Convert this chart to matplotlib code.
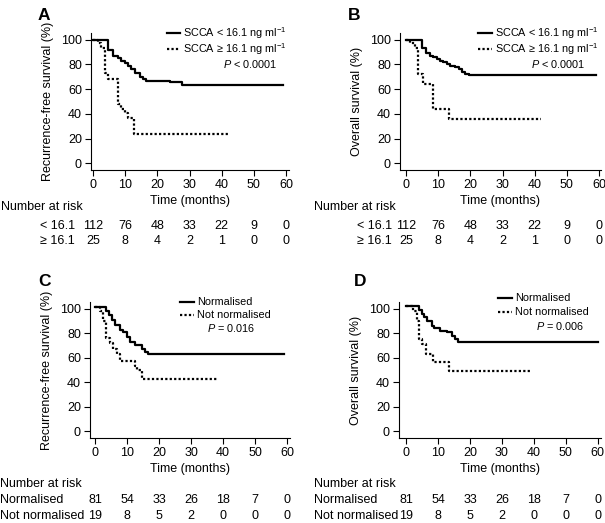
import matplotlib
matplotlib.use("Agg")
import matplotlib.pyplot as plt
import matplotlib.transforms as mtransforms
import numpy as np

plt.rcParams['font.family'] = ['Liberation Sans', 'DejaVu Sans']
plt.rcParams['mathtext.fontset'] = 'custom'
plt.rcParams['mathtext.rm'] = 'Liberation Sans'
plt.rcParams['mathtext.it'] = 'Liberation Sans:italic'
plt.rcParams['font.size'] = 8.5

# ---- data ----
# panel A: recurrence-free survival by SCCA level
a_low_t = [0, 4.7, 6.2, 7.8, 8.8, 9.9, 10.9, 11.9, 13.0, 14.5, 15.6, 16.6, 23.9, 27.8, 59]
a_low_s = [100, 92, 87, 85, 83, 81, 79, 76, 73, 70, 68, 67, 65.5, 63.5, 63.5]
a_high_t = [0, 1.6, 2.6, 3.6, 4.7, 7.8, 8.8, 9.9, 10.9, 12.7, 42]
a_high_s = [100, 97, 93, 73, 68, 48, 44, 41, 37, 24, 24]

# panel B: overall survival by SCCA level
b_low_t = [0, 5.0, 6.2, 7.5, 8.5, 9.6, 10.6, 11.6, 12.7, 13.7, 15.3, 16.3, 17.3, 18.4, 19.4, 59]
b_low_s = [100, 93, 89, 87, 86, 84.5, 83, 82, 80.5, 79, 78, 76, 73.5, 72, 71.6, 71.6]
b_high_t = [0, 1.2, 2.8, 3.8, 5.1, 8.3, 13.2, 42]
b_high_s = [100, 97, 93, 72, 64, 44, 36, 36]

# panel C: recurrence-free survival by normalisation
c_norm_t = [0, 3.4, 4.2, 5.2, 6.2, 7.8, 8.8, 9.9, 10.9, 12.5, 14.6, 15.6, 16.6, 27.5, 59]
c_norm_s = [101.6, 98, 95, 91, 87, 83, 81, 77, 73, 70, 67, 65, 63, 63, 63]
c_not_t = [0, 1.6, 2.6, 3.4, 4.5, 5.7, 6.8, 7.8, 12.5, 13.2, 14.6, 38]
c_not_s = [101.6, 98, 90, 76, 72, 67, 63, 57, 53, 50, 42.5, 42.5]

# panel D: overall survival by normalisation
d_norm_t = [0, 4.2, 4.9, 5.6, 6.5, 8.0, 8.6, 10.6, 12.7, 14.3, 15.3, 16.4, 17.4, 60]
d_norm_s = [102, 99, 96, 93, 90, 86, 84, 82, 81, 78, 75, 73, 73, 73]
d_not_t = [0, 2.3, 3.3, 4.1, 5.0, 6.3, 8.4, 13.3, 39]
d_not_s = [102, 98, 90, 75, 71, 63, 56.5, 49, 49]

risk_times = [0, 10, 20, 30, 40, 50, 60]
scca_low_risk = [112, 76, 48, 33, 22, 9, 0]
scca_high_risk = [25, 8, 4, 2, 1, 0, 0]
norm_risk = [81, 54, 33, 26, 18, 7, 0]
not_norm_risk = [19, 8, 5, 2, 0, 0, 0]

scca_labels = ['SCCA < 16.1 ng ml$^{-1}$', 'SCCA \u2265 16.1 ng ml$^{-1}$']
norm_labels = ['Normalised', 'Not normalised']

W, H = 605, 523
fig = plt.figure(figsize=(W / 100, H / 100), dpi=100)


def rect(l, t, r, b):
    return [l / W, 1 - b / H, (r - l) / W, (b - t) / H]


def panel(box, xlim, letter, letter_xy, ylabel, t1, s1, t2, s2, labels,
          leg_xy, leg_ys, ptext, p_xy, p_ha, risk_xy, rows, row_x, row_ys):
    ax = fig.add_axes(rect(*box))
    ax.step(t1, s1, where='post', color='black', lw=1.6)
    ax.step(t2, s2, where='post', color='black', lw=1.6, ls=(0, (1, 1)))
    ax.set_xlim(*xlim)
    ax.set_ylim(-5.5, 105.5)
    ax.set_xticks(risk_times)
    ax.set_yticks([0, 20, 40, 60, 80, 100])
    for s in ['top', 'right']:
        ax.spines[s].set_visible(False)
    ax.tick_params(direction='out', length=4, width=0.8, pad=2.5, labelsize=9)
    ax.set_ylabel(ylabel, fontsize=9, labelpad=5)
    ax.set_xlabel('Time (months)', fontsize=9, labelpad=3)

    # legend drawn by hand so the row spacing matches
    x0, x1 = leg_xy
    for (ls, lab), ly in zip([('-', labels[0]), ((0, (1, 1)), labels[1])], leg_ys):
        yf = 1 - ly / H
        fig.add_artist(plt.Line2D([x0 / W, x1 / W], [yf, yf], color='black',
                                  lw=1.6, ls=ls, transform=fig.transFigure))
        fig.text((x1 + 3) / W, yf, lab, va='center', ha='left', fontsize=7.8)
    fig.text(p_xy[0] / W, 1 - p_xy[1] / H, ptext, ha=p_ha, va='center', fontsize=7.8)
    fig.text(letter_xy[0] / W, 1 - letter_xy[1] / H, letter, fontsize=12.5,
             fontweight='bold', va='center', ha='left')

    # number at risk table
    fig.text(risk_xy[0] / W, 1 - risk_xy[1] / H, 'Number at risk', va='center', fontsize=9)
    trans = mtransforms.blended_transform_factory(ax.transData, fig.transFigure)
    for (name, vals), ry in zip(rows, row_ys):
        fig.text(row_x / W, 1 - ry / H, name, va='center', fontsize=9)
        for x, v in zip(risk_times, vals):
            ax.text(x, 1 - ry / H, str(v), transform=trans, ha='center',
                    va='center', fontsize=9, clip_on=False)
    return ax


panel((91, 33, 289, 170), (-0.6, 60.9), 'A', (38, 15), 'Recurrence-free survival (%)',
      a_low_t, a_low_s, a_high_t, a_high_s, scca_labels,
      (167, 180), (33, 49), '$P$ < 0.0001', (277, 64), 'right', (1, 207),
      [('< 16.1', scca_low_risk), ('\u2265 16.1', scca_high_risk)], 40, [226, 241])

panel((400, 33, 601, 170), (-1.9, 60.6), 'B', (348, 15), 'Overall survival (%)',
      b_low_t, b_low_s, b_high_t, b_high_s, scca_labels,
      (478, 492), (33, 49), '$P$ < 0.0001', (585, 64), 'right', (314, 207),
      [('< 16.1', scca_low_risk), ('\u2265 16.1', scca_high_risk)], 357, [226, 241])

panel((90, 302, 290, 438), (-1.6, 60.9), 'C', (38, 282), 'Recurrence-free survival (%)',
      c_norm_t, c_norm_s, c_not_t, c_not_s, norm_labels,
      (180, 194), (302, 315), '$P$ = 0.016', (231, 328), 'center', (0, 484),
      [('Normalised', norm_risk), ('Not normalised', not_norm_risk)], 0, [500, 516])

panel((399, 302, 601, 438), (-2.2, 61.0), 'D', (354, 282), 'Overall survival (%)',
      d_norm_t, d_norm_s, d_not_t, d_not_s, norm_labels,
      (498, 512), (298, 312), '$P$ = 0.006', (560, 326), 'center', (314, 484),
      [('Normalised', norm_risk), ('Not normalised', not_norm_risk)], 314, [500, 516])

fig.savefig('out.png', dpi=100)
